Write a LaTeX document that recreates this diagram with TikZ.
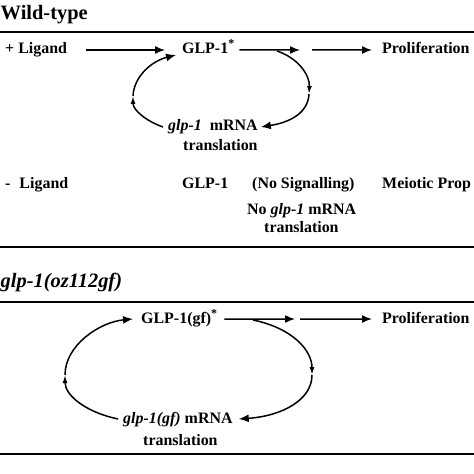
\documentclass[tikz,border=0pt]{standalone}
\usepackage{fontspec}
\setmainfont{Liberation Serif}
\usetikzlibrary{arrows.meta}
\newcommand{\astsup}{\raisebox{6bp}{\fontsize{12}{12}\selectfont *}}
\begin{document}
\begin{tikzpicture}[x=1bp,y=-1bp,
 lbl/.style={font=\fontsize{16}{19}\selectfont\bfseries, inner sep=0pt, anchor=base west, text height=12bp, text depth=4bp},
 ttl/.style={font=\fontsize{20.5}{25}\selectfont\bfseries, inner sep=0pt, anchor=base west},
 arr/.style={line width=1.5bp, -{Latex[length=10bp,width=8bp]}},
 looparr/.style={line width=1.5bp, -{Latex[length=10bp,width=8bp]}},
 midarr/.style={line width=1.5bp, -{Latex[length=8bp,width=5bp]}},
 rule/.style={line width=2bp}]
\useasboundingbox (0,0) rectangle (474,474);
\fill[white] (0,0) rectangle (474,474);

% ---- Wild-type panel
\node[ttl] (wt) at (0.5,20) {Wild-type};
\draw[rule] (0,32) -- (474,32);
\node[lbl] (lig) at (5,54) {+ Ligand};
\node[lbl] (glp) at (182,54) {GLP-1\astsup};
\node[lbl] (prol) at (382,54) {Proliferation};
\coordinate (j1) at (306,50);
\draw[arr] ([xshift=19bp]lig.east) -- ([xshift=-17bp]glp.west);
\draw[arr] ([xshift=5bp]glp.east) -- ([xshift=-6bp]j1);
\draw[arr] ([xshift=6bp]j1) -- ([xshift=-10bp]prol.west);

\node[lbl] (m1) at (168,131) {\textit{glp-1}\hspace{8bp}mRNA};
\node[lbl] (t1) at (183,151) {translation};
\coordinate (s1) at (277,51);
\coordinate (r1) at (309,94);
\coordinate (l1) at (133,96);
\draw[midarr] (s1) .. controls (298,58) and (310,75) .. (r1);
\draw[looparr] (r1) .. controls (308,112) and (292,122) .. ([xshift=3bp]m1.east);
\draw[midarr] ([xshift=-5bp]m1.west) .. controls (146,121) and (133,110) .. (l1);
\draw[looparr] (l1) .. controls (134,76) and (152,61) .. ([xshift=-6bp,yshift=-5bp]glp.west);

\node[lbl] (nlig) at (5,189) {-\hspace{9bp}Ligand};
\node[lbl] (glp0) at (182,189) {GLP-1};
\node[lbl] (nosig) at (252,189) {(No Signalling)};
\node[lbl] (mei) at (382,189) {Meiotic Prop};
\node[lbl] (nom) at (247,215) {No \textit{glp-1} mRNA};
\node[lbl] (nt) at (264,233) {translation};
\draw[rule] (0,247) -- (474,247);

% ---- gf panel
\node[ttl] (gf) at (0.5,287) {\textit{glp-1(oz112gf)}};
\draw[rule] (0,302) -- (474,302);
\node[lbl] (g2) at (141,323) {GLP-1(gf)\astsup};
\node[lbl] (prol2) at (382,323) {Proliferation};
\coordinate (j2) at (297.5,319);
\draw[arr] ([xshift=7bp]g2.east) -- ([xshift=-2.5bp]j2);
\draw[arr] ([xshift=2.5bp]j2) -- ([xshift=-10bp]prol2.west);

\node[lbl] (m2) at (123,423) {\textit{glp-1(gf)} mRNA};
\node[lbl] (t2) at (143,445) {translation};
\coordinate (s2) at (253,320);
\coordinate (r2) at (312,375);
\coordinate (l2) at (65,375);
\draw[midarr] (s2) .. controls (292,328) and (312,350) .. (r2);
\draw[looparr] (r2) .. controls (312,400) and (282,416) .. ([xshift=6bp]m2.east);
\draw[midarr] ([xshift=-5bp]m2.west) .. controls (85,412) and (65,395) .. (l2);
\draw[looparr] (l2) .. controls (65,345) and (100,322) .. ([xshift=-8bp]g2.west);
\draw[rule] (0,454) -- (474,454);
\end{tikzpicture}
\end{document}
